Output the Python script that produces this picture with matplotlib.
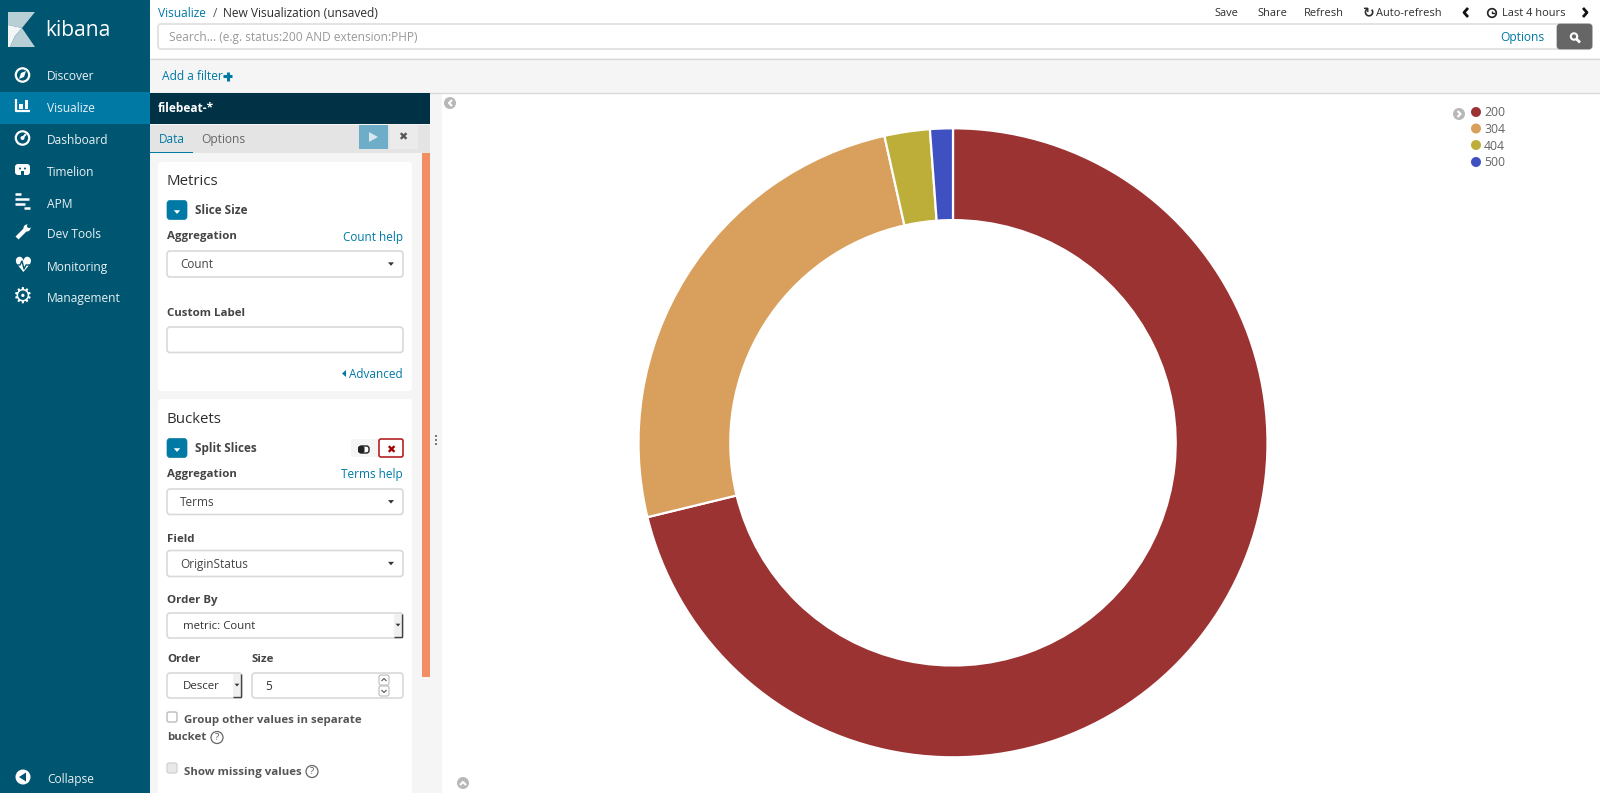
import matplotlib
matplotlib.use("Agg")
import matplotlib.pyplot as plt
from matplotlib.patches import Rectangle, FancyBboxPatch, Circle, Polygon

plt.rcParams['font.family'] = ['Open Sans', 'DejaVu Sans']

# ---- chart data ----
status_labels = ['200', '304', '404', '500']
status_share = [71.2, 25.3, 2.33, 1.17]
status_colors = ['#9C3333', '#D8A05C', '#BDAE3A', '#3F50C0']

nav_labels = ['Discover', 'Visualize', 'Dashboard', 'Timelion', 'APM', 'Dev Tools', 'Monitoring', 'Management']
nav_rows = [76, 107.5, 139, 171, 203, 234, 266, 297.5]

W, H = 1600, 793
fig = plt.figure(figsize=(W / 100, H / 100), dpi=100, facecolor='white')
ui = fig.add_axes([0, 0, 1, 1])
ui.set_xlim(0, W)
ui.set_ylim(H, 0)
ui.axis('off')

SIDE = '#005571'
BLUE = '#0079A5'
DARK = '#2D2D2D'
LABEL = '#444444'
PANEL = 11.7
BOLD = 11.5


def fs(px):
    return px * 0.72


def rect(x0, y0, x1, y1, fc, ec='none', lw=0, z=1):
    ui.add_patch(Rectangle((x0, y0), x1 - x0, y1 - y0, fc=fc, ec=ec, lw=lw, zorder=z))


def box(x0, y0, x1, y1, fc='white', ec='#D9D9D9', lw=1.2, r=3, z=3):
    ui.add_patch(FancyBboxPatch((x0 + r, y0 + r), x1 - x0 - 2 * r, y1 - y0 - 2 * r,
                                boxstyle=f'round,pad={r},rounding_size={r}',
                                fc=fc, ec=ec, lw=lw, zorder=z))


def txt(x, y, s, px=12, c=DARK, w='normal', ha='left', z=6, **kw):
    ui.text(x, y + 1, s, fontsize=fs(px), color=c, fontweight=w, ha=ha, va='center', zorder=z, **kw)


def tri(cx, cy, s=3.5, c='#333333', z=6):
    ui.add_patch(Polygon([(cx - s, cy - s * .55), (cx + s, cy - s * .55), (cx, cy + s * .6)], fc=c, ec='none', zorder=z))


def circ(cx, cy, r, fc='none', ec='none', lw=0, z=6):
    ui.add_patch(Circle((cx, cy), r, fc=fc, ec=ec, lw=lw, zorder=z))


def line(xs, ys, c='white', lw=1.5, z=6):
    ui.plot(xs, ys, color=c, lw=lw, solid_capstyle='butt', zorder=z)


# ---- page regions ----
rect(0, 0, W, 58, 'white')
rect(0, 58, W, 93, '#F5F5F5')
line([150, W], [58.5, 58.5], '#D9D9D9', 1, 2)
line([150, W], [92.5, 92.5], '#D9D9D9', 1, 2)
rect(430, 93, 442, H, '#F5F5F5')
rect(150, 93, 430, H, '#F5F5F5')
rect(0, 0, 150, H, SIDE, z=2)
rect(0, 92, 150, 124, BLUE, z=3)

# ---- logo ----
ui.add_patch(Polygon([(8, 12), (35, 12), (22, 28), (8, 25)], fc='#B8CFD5', ec='none', zorder=5))
ui.add_patch(Polygon([(8, 25), (22, 28), (15, 36), (10, 47), (8, 47)], fc='#F2F6F7', ec='none', zorder=5))
ui.add_patch(Polygon([(22, 28), (35, 47), (10, 47), (15, 36)], fc='#B8CFD5', ec='none', zorder=5))
txt(45, 29, 'kibana', 21, 'white', z=6)

# ---- nav ----
for label, y in zip(nav_labels, nav_rows):
    txt(47, y, label, 12, '#E8F1F4')
txt(47, 778, 'Collapse', 12, '#E8F1F4')
circ(23, 777, 7.5, 'white')
ui.add_patch(Polygon([(19, 777), (26, 772.5), (26, 781.5)], fc=SIDE, ec='none', zorder=7))

# discover
circ(22.5, 75, 6.7, 'none', 'white', 1.6)
ui.add_patch(Polygon([(26, 71), (24, 77), (19, 79), (21, 73)], fc='white', ec='none', zorder=7))
# visualize
line([15.5, 15.5, 30], [99, 111, 111], 'white', 1.6)
rect(19, 104, 22.5, 109, 'white', z=6)
rect(24.5, 100, 28, 109, 'white', z=6)
# dashboard
circ(22.5, 138, 6.7, 'none', 'white', 1.6)
circ(22.5, 138, 2, 'white')
line([22.5, 26], [138, 134], 'white', 1.4)
# timelion
ui.add_patch(FancyBboxPatch((17, 166), 11, 7, boxstyle='round,pad=2,rounding_size=3', fc='white', ec='none', zorder=6))
circ(20, 168.5, 1, SIDE, z=7)
circ(25, 168.5, 1, SIDE, z=7)
rect(21, 171, 24, 175, SIDE, z=7)
# apm
line([15, 21], [194, 194], 'white', 1.8)
line([15, 29], [199, 199], 'white', 1.8)
line([15, 25], [203.5, 203.5], 'white', 1.8)
line([24, 30], [207.5, 207.5], 'white', 1.8)
# dev tools
line([17, 27], [238, 228], 'white', 3)
circ(27, 228, 3.5, 'white')
circ(29, 226, 2, SIDE, z=7)
# monitoring, management
ui.text(22.5, 266, '\u2665', fontsize=fs(21), color='white', ha='center', va='center', family='DejaVu Sans', zorder=6)
line([16, 20, 22, 24, 26, 30], [265, 265, 261, 269, 265, 265], SIDE, 1, 7)
ui.text(22.5, 297, '\u2699', fontsize=fs(22), color='white', ha='center', va='center', family='DejaVu Sans', fontweight='bold', zorder=6)

# ---- top bar ----
txt(158, 12.5, 'Visualize', 12, BLUE)
txt(213, 12.5, '/', 12, '#555555')
txt(223, 12.5, 'New Visualization (unsaved)', 12, DARK)
for x, s in [(1214, 'Save'), (1257, 'Share'), (1304, 'Refresh'), (1376, 'Auto-refresh'), (1502, 'Last 4 hours')]:
    txt(x, 12.5, s, 11, DARK)
ui.text(1369, 13, '\u21BB', fontsize=fs(14), color=DARK, ha='center', va='center', family='DejaVu Sans', fontweight='bold', zorder=6)
line([1468, 1464, 1468], [8, 12.5, 17], '#111111', 2)
line([1583, 1587, 1583], [8, 12.5, 17], '#111111', 2)
circ(1492, 13, 4.3, 'none', '#222222', 1.2)
line([1492, 1492, 1495], [10.5, 13, 13], '#222222', 1)

box(158, 24, 1592, 49, 'white', '#E3E3E3', 1.4)
txt(169, 36.5, 'Search... (e.g. status:200 AND extension:PHP)', 11.9, '#999999')
txt(1544, 36.5, 'Options', 12, BLUE, ha='right')
box(1557, 24, 1592, 49, '#666666', '#666666', 0.5, z=4)
circ(1574, 36.5, 3.2, 'none', 'white', 1.5)
line([1576.5, 1580], [39, 42.5], 'white', 2)

txt(162, 75.5, 'Add a filter', 12, BLUE)
line([223, 232], [76, 76], BLUE, 2.2)
line([227.5, 227.5], [71.5, 80.5], BLUE, 2.2)

# ---- editor panel ----
rect(150, 93, 430, 124, '#003144', z=2)
txt(158, 107.5, 'filebeat-*', 11.9, 'white', 'bold')
rect(150, 125, 430, 153, '#E4E4E4', z=2)
rect(150, 152, 193, 153.3, BLUE, z=3)
txt(159, 138.5, 'Data', 11.8, BLUE)
txt(201, 138.5, 'Options', 12, '#666666')
rect(359, 125, 388, 149, '#6EADC8', z=3)
ui.add_patch(Polygon([(369, 132), (369, 142), (378, 137)], fc='#D5E8EF', ec='none', zorder=5))
rect(390, 125, 418, 149, '#EBEBEB', z=3)
ui.text(403, 137, '\u2716', fontsize=fs(11), color='#555555', ha='center', va='center', family='DejaVu Sans', zorder=6)
rect(422, 153, 430, 677, '#F18E64', z=3)
box(158, 162, 412, 391, 'white', 'none', 0, 3, z=2)
box(158, 399, 412, 810, 'white', 'none', 0, 3, z=2)
for y in (432, 436, 440):
    circ(436, y + 4, 0.9, '#333333')

txt(167, 180.5, 'Metrics', 15, DARK)
txt(167, 418.5, 'Buckets', 15, DARK)
for y, s in [(210, 'Slice Size'), (448, 'Split Slices')]:
    box(167, y - 9.5, 187, y + 9.5, BLUE, BLUE, 0.5)
    tri(177, y + 2, 3.2, 'white')
    txt(195, y - 0.5, s, 11.8, LABEL, 'bold')

for y, s in [(236, 'Aggregation'), (313, 'Custom Label'), (473.5, 'Aggregation'), (538, 'Field'), (599.5, 'Order By'), (659, 'Order')]:
    txt(167, y, s, BOLD, LABEL, 'bold')
txt(252, 659, 'Size', BOLD, LABEL, 'bold')
txt(403, 236, 'Count help', PANEL, BLUE, ha='right')
txt(403, 473.5, 'Terms help', PANEL, BLUE, ha='right')
txt(403, 373, 'Advanced', PANEL, BLUE, ha='right')
ui.add_patch(Polygon([(342, 373.5), (346, 370), (346, 377)], fc=BLUE, ec='none', zorder=6))

for y0, y1, s in [(251, 277, 'Count'), (489, 514.5, 'Terms'), (550.5, 576.5, 'OriginStatus')]:
    box(167, y0, 403, y1)
    txt(180, (y0 + y1) / 2, s, PANEL, '#444444')
    tri(391, (y0 + y1) / 2, 3)
box(167, 327, 403, 352.5)

box(167, 613, 403, 638)
txt(183, 625.5, 'metric: Count', 11.4, '#333333')
rect(394, 614, 402, 637, '#F0F0F0', z=4)
line([402, 402, 394], [614, 637, 637], '#444444', 1, 5)
tri(398, 625, 2.4)

box(167, 673, 242, 698)
txt(183, 685.5, 'Descer', 11.5, '#333333')
rect(233, 674, 241, 697, '#F0F0F0', z=4)
line([241, 241, 233], [674, 697, 697], '#444444', 1, 5)
tri(237, 685, 2.4)

box(252, 673, 403, 698)
txt(265, 685.5, '5', PANEL, '#333333')
box(379, 675, 389, 685, 'white', '#BBBBBB', 0.8, 2, z=4)
box(379, 686, 389, 696, 'white', '#BBBBBB', 0.8, 2, z=4)
line([381.5, 384, 386.5], [681, 678.5, 681], '#555555', 0.8)
line([381.5, 384, 386.5], [690, 692.5, 690], '#555555', 0.8)

box(351, 439, 380, 457, '#F5F5F5', 'none', 0, 3, z=3)
ui.add_patch(FancyBboxPatch((361, 448), 6, 3, boxstyle='round,pad=2,rounding_size=2.5', fc='white', ec='#222222', lw=1, zorder=5))
ui.add_patch(FancyBboxPatch((360, 448), 2.5, 3, boxstyle='round,pad=2,rounding_size=2', fc='#222222', ec='none', zorder=6))
box(379, 439, 403, 457, 'white', '#B22222', 1.2, 2, z=4)
ui.text(391, 450, '\u2716', fontsize=fs(11), color='#A30000', ha='center', va='center', family='DejaVu Sans', zorder=6)

box(167, 712, 177, 722, 'white', '#BBBBBB', 1, 2)
txt(184, 720, 'Group other values in separate', BOLD, '#555555', 'bold')
txt(167, 737, 'bucket', BOLD, '#555555', 'bold')
box(167, 763, 177, 773, '#E8E8E8', '#D5D5D5', 1, 2)
txt(184, 771, 'Show missing values', BOLD, '#555555', 'bold')
for x, y in [(217, 737.5), (312, 771.5)]:
    circ(x, y, 6, 'white', '#666666', 0.9)
    ui.text(x, y, '?', fontsize=fs(9.5), color='#555555', ha='center', va='center', zorder=7)

# ---- viewport controls ----
for x, y in [(450, 103), (463, 783)]:
    circ(x, y, 6, '#B8B8B8')
line([452, 449, 452], [100, 103, 106], 'white', 1.5)
line([460, 463, 466], [785, 782, 785], 'white', 1.5)

# ---- legend ----
circ(1459, 114, 6, '#B8B8B8')
line([1457.5, 1460.5, 1457.5], [111, 114, 117], 'white', 1.5)
legend_rows = [112, 128.5, 145, 162]
for label, color, y in zip(status_labels, status_colors, legend_rows):
    circ(1476, y, 5, color)
    txt(1484, y, label, 12.2, '#666666')

# ---- donut ----
cx, cy, r_out, r_in = 953, 442.8, 314.5, 222.7
pie_ax = fig.add_axes([(cx - r_out) / W, 1 - (cy + r_out) / H, 2 * r_out / W, 2 * r_out / H])
pie_ax.patch.set_alpha(0)
wedges, _ = pie_ax.pie(status_share, colors=status_colors, startangle=90, counterclock=False,
                       radius=1, wedgeprops=dict(width=1 - r_in / r_out, edgecolor='white', linewidth=1.6))
pie_ax.set_xlim(-1, 1)
pie_ax.set_ylim(-1, 1)
for w in wedges:
    w.set_clip_on(False)

fig.savefig('out.png', dpi=100)
